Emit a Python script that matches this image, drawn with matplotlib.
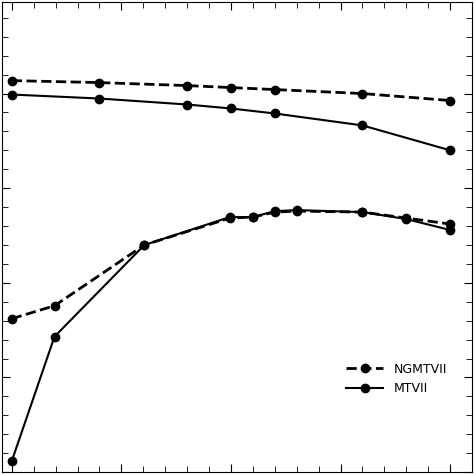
import matplotlib.pyplot as plt
import matplotlib.ticker as mticker

x_top = [0, 0.8, 1.6, 2.0, 2.4, 3.2, 4.0]
ngm_top = [393, 391, 388, 386, 384, 380, 373]
mtv_top = [379, 375, 369, 365, 360, 348, 323]

x_low = [0, 0.39, 1.21, 1.99, 2.2, 2.4, 2.6, 3.2, 3.6, 4.0]
ngm_low = [154, 167, 228, 255, 256, 261, 262, 261, 255, 249]
mtv_low = [11, 136, 228, 256, 256, 262, 263, 261, 254, 243]

fig = plt.figure(figsize=(4.74, 4.74), dpi=100)
ax = fig.add_axes([0.004, 0.004, 0.992, 0.992])
ax.plot(x_top, ngm_top, 'k--o', lw=2, ms=6, label='NGMTVII')
ax.plot(x_top, mtv_top, 'k-o', lw=1.5, ms=6, label='MTVII')
ax.plot(x_low, ngm_low, 'k--o', lw=2, ms=6)
ax.plot(x_low, mtv_low, 'k-o', lw=1.5, ms=6)
ax.set_xlim(-0.09, 4.2)
ax.set_ylim(0, 472)
ax.xaxis.set_major_locator(mticker.MultipleLocator(1))
ax.xaxis.set_minor_locator(mticker.MultipleLocator(0.2))
ax.yaxis.set_major_locator(mticker.MultipleLocator(95))
ax.yaxis.set_minor_locator(mticker.MultipleLocator(19))
ax.tick_params(which='both', direction='in', top=True, right=True,
               labelbottom=False, labelleft=False)
ax.tick_params(which='major', length=6)
ax.tick_params(which='minor', length=4)
ax.legend(loc='lower right', bbox_to_anchor=(0.97, 0.14), frameon=False,
          fontsize=9, handlelength=3)
fig.savefig('out.png')
